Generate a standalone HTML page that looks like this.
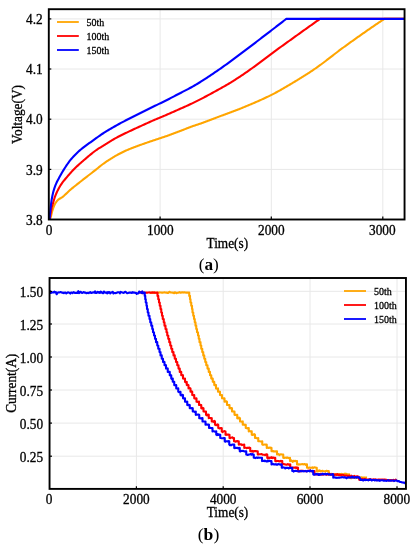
<!DOCTYPE html>
<html><head><meta charset="utf-8"><title>Charging curves</title>
<style>
html,body{margin:0;padding:0;background:#fff;}
body{width:416px;height:550px;overflow:hidden;}
svg{display:block;}
text{font-family:"Liberation Serif","Times New Roman",serif;fill:#000;}
.tk{font-size:13.3px;stroke:#000;stroke-width:0.3px;}
.lg{font-size:10px;stroke:#000;stroke-width:0.28px;}
.cap{font-size:16px;}
.grid line{stroke:#e8e8e8;stroke-width:1;}
.crv path{fill:none;stroke-width:2.1;stroke-linejoin:round;stroke-linecap:butt;}
</style></head><body>
<svg width="416" height="550" viewBox="0 0 416 550">
<rect width="416" height="550" fill="#fff"/>

<!-- chart a -->
<g class="grid">
<line x1="160.1" y1="10" x2="160.1" y2="219"/><line x1="271.3" y1="10" x2="271.3" y2="219"/><line x1="382.8" y1="10" x2="382.8" y2="219"/>
<line x1="49" y1="18.9" x2="404" y2="18.9"/><line x1="49" y1="69.0" x2="404" y2="69.0"/><line x1="49" y1="119.2" x2="404" y2="119.2"/><line x1="49" y1="169.4" x2="404" y2="169.4"/>
</g>
<clipPath id="ca"><rect x="48.8" y="9.5" width="355.75" height="210"/></clipPath>
<g class="crv" clip-path="url(#ca)">
<path d="M50.00 219.50 L51.00 216.29 L52.00 212.05 L53.00 208.75 L54.00 206.03 L55.00 203.90 L56.00 202.28 L57.00 200.94 L58.00 199.89 L59.00 199.11 L60.00 198.51 L61.00 197.96 L62.00 197.34 L63.00 196.58 L64.00 195.73 L65.00 194.82 L66.00 193.87 L67.00 192.89 L68.00 191.92 L69.00 190.98 L70.00 190.09 L71.00 189.24 L72.00 188.41 L73.00 187.60 L74.00 186.79 L75.00 186.00 L76.00 185.21 L77.00 184.42 L78.00 183.62 L79.00 182.82 L80.00 182.03 L81.00 181.24 L82.00 180.45 L83.00 179.67 L84.00 178.88 L85.00 178.10 L86.00 177.32 L87.00 176.55 L88.00 175.78 L89.00 175.02 L90.00 174.25 L91.00 173.49 L92.00 172.72 L93.00 171.95 L94.00 171.18 L95.00 170.40 L96.00 169.60 L97.00 168.80 L98.00 167.97 L99.00 167.12 L100.00 166.30 L101.00 165.52 L102.00 164.77 L103.00 164.03 L104.00 163.31 L105.00 162.60 L106.00 161.91 L107.00 161.24 L108.00 160.59 L109.00 159.94 L110.00 159.30 L111.00 158.66 L112.00 158.02 L113.00 157.40 L114.00 156.79 L115.00 156.20 L116.00 155.63 L117.00 155.08 L118.00 154.55 L119.00 154.02 L120.00 153.51 L121.00 153.00 L122.00 152.50 L123.00 152.00 L124.00 151.51 L125.00 151.03 L126.00 150.57 L127.00 150.12 L128.00 149.69 L129.00 149.27 L130.00 148.86 L131.00 148.46 L132.00 148.07 L133.00 147.68 L134.00 147.30 L135.00 146.93 L136.00 146.56 L137.00 146.19 L138.00 145.83 L139.00 145.46 L140.00 145.10 L141.00 144.74 L142.00 144.38 L143.00 144.02 L144.00 143.67 L145.00 143.32 L146.00 142.97 L147.00 142.63 L148.00 142.28 L149.00 141.94 L150.00 141.60 L151.00 141.26 L152.00 140.92 L153.00 140.58 L154.00 140.25 L155.00 139.91 L156.00 139.59 L157.00 139.26 L158.00 138.93 L159.00 138.61 L160.00 138.28 L161.00 137.95 L162.00 137.62 L163.00 137.29 L164.00 136.95 L165.00 136.60 L166.00 136.25 L167.00 135.89 L168.00 135.53 L169.00 135.17 L170.00 134.80 L171.00 134.43 L172.00 134.06 L173.00 133.68 L174.00 133.31 L175.00 132.94 L176.00 132.56 L177.00 132.19 L178.00 131.81 L179.00 131.44 L180.00 131.05 L181.00 130.67 L182.00 130.28 L183.00 129.90 L184.00 129.51 L185.00 129.12 L186.00 128.73 L187.00 128.35 L188.00 127.96 L189.00 127.58 L190.00 127.21 L191.00 126.83 L192.00 126.47 L193.00 126.10 L194.00 125.75 L195.00 125.41 L196.00 125.07 L197.00 124.75 L198.00 124.42 L199.00 124.09 L200.00 123.75 L201.00 123.40 L202.00 123.04 L203.00 122.68 L204.00 122.32 L205.00 121.95 L206.00 121.58 L207.00 121.20 L208.00 120.82 L209.00 120.45 L210.00 120.06 L211.00 119.68 L212.00 119.30 L213.00 118.92 L214.00 118.53 L215.00 118.15 L216.00 117.77 L217.00 117.38 L218.00 117.00 L219.00 116.63 L220.00 116.25 L221.00 115.88 L222.00 115.50 L223.00 115.14 L224.00 114.77 L225.00 114.40 L226.00 114.03 L227.00 113.67 L228.00 113.30 L229.00 112.94 L230.00 112.57 L231.00 112.20 L232.00 111.83 L233.00 111.46 L234.00 111.08 L235.00 110.70 L236.00 110.32 L237.00 109.93 L238.00 109.54 L239.00 109.15 L240.00 108.75 L241.00 108.35 L242.00 107.94 L243.00 107.54 L244.00 107.13 L245.00 106.72 L246.00 106.31 L247.00 105.90 L248.00 105.48 L249.00 105.07 L250.00 104.65 L251.00 104.23 L252.00 103.80 L253.00 103.38 L254.00 102.95 L255.00 102.52 L256.00 102.08 L257.00 101.65 L258.00 101.21 L259.00 100.76 L260.00 100.31 L261.00 99.86 L262.00 99.41 L263.00 98.95 L264.00 98.49 L265.00 98.02 L266.00 97.55 L267.00 97.07 L268.00 96.59 L269.00 96.11 L270.00 95.62 L271.00 95.12 L272.00 94.62 L273.00 94.11 L274.00 93.60 L275.00 93.07 L276.00 92.53 L277.00 91.99 L278.00 91.44 L279.00 90.88 L280.00 90.32 L281.00 89.76 L282.00 89.18 L283.00 88.61 L284.00 88.03 L285.00 87.44 L286.00 86.86 L287.00 86.27 L288.00 85.68 L289.00 85.09 L290.00 84.50 L291.00 83.91 L292.00 83.31 L293.00 82.72 L294.00 82.12 L295.00 81.52 L296.00 80.91 L297.00 80.31 L298.00 79.70 L299.00 79.08 L300.00 78.47 L301.00 77.85 L302.00 77.23 L303.00 76.60 L304.00 75.97 L305.00 75.33 L306.00 74.70 L307.00 74.05 L308.00 73.41 L309.00 72.76 L310.00 72.10 L311.00 71.44 L312.00 70.78 L313.00 70.11 L314.00 69.43 L315.00 68.75 L316.00 68.06 L317.00 67.36 L318.00 66.65 L319.00 65.94 L320.00 65.21 L321.00 64.48 L322.00 63.74 L323.00 62.99 L324.00 62.24 L325.00 61.48 L326.00 60.72 L327.00 59.95 L328.00 59.18 L329.00 58.41 L330.00 57.64 L331.00 56.86 L332.00 56.09 L333.00 55.31 L334.00 54.54 L335.00 53.77 L336.00 53.00 L337.00 52.23 L338.00 51.47 L339.00 50.71 L340.00 49.95 L341.00 49.21 L342.00 48.46 L343.00 47.73 L344.00 47.00 L345.00 46.28 L346.00 45.55 L347.00 44.83 L348.00 44.11 L349.00 43.39 L350.00 42.68 L351.00 41.96 L352.00 41.24 L353.00 40.53 L354.00 39.82 L355.00 39.11 L356.00 38.40 L357.00 37.69 L358.00 36.98 L359.00 36.27 L360.00 35.57 L361.00 34.87 L362.00 34.16 L363.00 33.46 L364.00 32.77 L365.00 32.07 L366.00 31.37 L367.00 30.68 L368.00 29.98 L369.00 29.29 L370.00 28.60 L371.00 27.91 L372.00 27.22 L373.00 26.54 L374.00 25.85 L375.00 25.17 L376.00 24.49 L377.00 23.81 L378.00 23.13 L379.00 22.46 L380.00 21.78 L381.00 21.11 L382.00 20.44 L383.00 19.77 L384.00 19.10 L384.30 18.90 L404.50 18.90" stroke="#ffa500"/>
<path d="M49.70 219.50 L50.70 213.01 L51.70 207.51 L52.70 204.25 L53.70 200.71 L54.70 197.48 L55.70 194.83 L56.70 192.50 L57.70 190.40 L58.70 188.48 L59.70 186.70 L60.70 185.06 L61.70 183.56 L62.70 182.18 L63.70 180.91 L64.70 179.71 L65.70 178.54 L66.70 177.36 L67.70 176.18 L68.70 175.01 L69.70 173.86 L70.70 172.73 L71.70 171.62 L72.70 170.54 L73.70 169.50 L74.70 168.50 L75.70 167.52 L76.70 166.56 L77.70 165.63 L78.70 164.71 L79.70 163.80 L80.70 162.92 L81.70 162.04 L82.70 161.17 L83.70 160.31 L84.70 159.46 L85.70 158.60 L86.70 157.75 L87.70 156.90 L88.70 156.06 L89.70 155.22 L90.70 154.40 L91.70 153.58 L92.70 152.79 L93.70 152.01 L94.70 151.25 L95.70 150.52 L96.70 149.81 L97.70 149.13 L98.70 148.49 L99.70 147.88 L100.70 147.28 L101.70 146.69 L102.70 146.08 L103.70 145.45 L104.70 144.82 L105.70 144.19 L106.70 143.55 L107.70 142.92 L108.70 142.28 L109.70 141.65 L110.70 141.03 L111.70 140.42 L112.70 139.82 L113.70 139.24 L114.70 138.67 L115.70 138.11 L116.70 137.58 L117.70 137.05 L118.70 136.53 L119.70 136.02 L120.70 135.51 L121.70 135.02 L122.70 134.52 L123.70 134.04 L124.70 133.55 L125.70 133.07 L126.70 132.59 L127.70 132.10 L128.70 131.62 L129.70 131.15 L130.70 130.68 L131.70 130.21 L132.70 129.75 L133.70 129.28 L134.70 128.82 L135.70 128.37 L136.70 127.91 L137.70 127.45 L138.70 126.99 L139.70 126.54 L140.70 126.08 L141.70 125.62 L142.70 125.16 L143.70 124.70 L144.70 124.25 L145.70 123.79 L146.70 123.34 L147.70 122.88 L148.70 122.43 L149.70 121.98 L150.70 121.54 L151.70 121.10 L152.70 120.66 L153.70 120.23 L154.70 119.81 L155.70 119.38 L156.70 118.97 L157.70 118.55 L158.70 118.14 L159.70 117.72 L160.70 117.31 L161.70 116.89 L162.70 116.48 L163.70 116.05 L164.70 115.63 L165.70 115.20 L166.70 114.77 L167.70 114.33 L168.70 113.90 L169.70 113.46 L170.70 113.02 L171.70 112.58 L172.70 112.14 L173.70 111.69 L174.70 111.25 L175.70 110.80 L176.70 110.36 L177.70 109.91 L178.70 109.47 L179.70 109.02 L180.70 108.58 L181.70 108.13 L182.70 107.69 L183.70 107.25 L184.70 106.80 L185.70 106.35 L186.70 105.90 L187.70 105.45 L188.70 105.00 L189.70 104.54 L190.70 104.07 L191.70 103.60 L192.70 103.13 L193.70 102.65 L194.70 102.16 L195.70 101.67 L196.70 101.17 L197.70 100.67 L198.70 100.16 L199.70 99.65 L200.70 99.14 L201.70 98.62 L202.70 98.10 L203.70 97.57 L204.70 97.04 L205.70 96.51 L206.70 95.98 L207.70 95.44 L208.70 94.91 L209.70 94.36 L210.70 93.82 L211.70 93.28 L212.70 92.73 L213.70 92.19 L214.70 91.64 L215.70 91.09 L216.70 90.54 L217.70 89.99 L218.70 89.44 L219.70 88.89 L220.70 88.33 L221.70 87.78 L222.70 87.21 L223.70 86.65 L224.70 86.08 L225.70 85.51 L226.70 84.92 L227.70 84.34 L228.70 83.74 L229.70 83.14 L230.70 82.53 L231.70 81.91 L232.70 81.29 L233.70 80.66 L234.70 80.03 L235.70 79.39 L236.70 78.74 L237.70 78.09 L238.70 77.44 L239.70 76.78 L240.70 76.12 L241.70 75.45 L242.70 74.78 L243.70 74.10 L244.70 73.42 L245.70 72.73 L246.70 72.03 L247.70 71.33 L248.70 70.63 L249.70 69.92 L250.70 69.20 L251.70 68.48 L252.70 67.75 L253.70 67.03 L254.70 66.30 L255.70 65.57 L256.70 64.83 L257.70 64.10 L258.70 63.36 L259.70 62.62 L260.70 61.88 L261.70 61.13 L262.70 60.38 L263.70 59.62 L264.70 58.86 L265.70 58.10 L266.70 57.33 L267.70 56.57 L268.70 55.81 L269.70 55.06 L270.70 54.31 L271.70 53.57 L272.70 52.83 L273.70 52.09 L274.70 51.36 L275.70 50.63 L276.70 49.90 L277.70 49.17 L278.70 48.44 L279.70 47.72 L280.70 47.00 L281.70 46.27 L282.70 45.55 L283.70 44.83 L284.70 44.11 L285.70 43.39 L286.70 42.67 L287.70 41.95 L288.70 41.24 L289.70 40.52 L290.70 39.80 L291.70 39.08 L292.70 38.36 L293.70 37.64 L294.70 36.92 L295.70 36.20 L296.70 35.49 L297.70 34.77 L298.70 34.05 L299.70 33.34 L300.70 32.62 L301.70 31.91 L302.70 31.19 L303.70 30.48 L304.70 29.76 L305.70 29.05 L306.70 28.34 L307.70 27.62 L308.70 26.91 L309.70 26.20 L310.70 25.49 L311.70 24.78 L312.70 24.07 L313.70 23.36 L314.70 22.65 L315.70 21.94 L316.70 21.23 L317.70 20.53 L318.70 19.82 L319.70 19.11 L320.00 18.90 L404.50 18.90" stroke="#ff0000"/>
<path d="M49.50 219.50 L50.50 208.42 L51.50 200.51 L52.50 195.25 L53.50 191.10 L54.50 187.86 L55.50 185.14 L56.50 182.80 L57.50 180.75 L58.50 178.89 L59.50 177.08 L60.50 175.26 L61.50 173.48 L62.50 171.75 L63.50 170.10 L64.50 168.52 L65.50 166.97 L66.50 165.45 L67.50 163.98 L68.50 162.56 L69.50 161.21 L70.50 159.93 L71.50 158.73 L72.50 157.59 L73.50 156.49 L74.50 155.43 L75.50 154.40 L76.50 153.42 L77.50 152.46 L78.50 151.54 L79.50 150.64 L80.50 149.77 L81.50 148.93 L82.50 148.11 L83.50 147.32 L84.50 146.56 L85.50 145.81 L86.50 145.09 L87.50 144.37 L88.50 143.66 L89.50 142.96 L90.50 142.27 L91.50 141.57 L92.50 140.86 L93.50 140.14 L94.50 139.42 L95.50 138.69 L96.50 137.96 L97.50 137.23 L98.50 136.51 L99.50 135.80 L100.50 135.10 L101.50 134.41 L102.50 133.75 L103.50 133.10 L104.50 132.47 L105.50 131.84 L106.50 131.22 L107.50 130.62 L108.50 130.02 L109.50 129.42 L110.50 128.84 L111.50 128.25 L112.50 127.68 L113.50 127.10 L114.50 126.53 L115.50 125.97 L116.50 125.40 L117.50 124.85 L118.50 124.29 L119.50 123.75 L120.50 123.20 L121.50 122.66 L122.50 122.13 L123.50 121.60 L124.50 121.07 L125.50 120.54 L126.50 120.02 L127.50 119.50 L128.50 118.98 L129.50 118.47 L130.50 117.97 L131.50 117.46 L132.50 116.97 L133.50 116.47 L134.50 115.97 L135.50 115.48 L136.50 114.99 L137.50 114.49 L138.50 114.00 L139.50 113.50 L140.50 113.00 L141.50 112.50 L142.50 112.00 L143.50 111.49 L144.50 110.99 L145.50 110.49 L146.50 109.98 L147.50 109.48 L148.50 108.98 L149.50 108.48 L150.50 107.99 L151.50 107.49 L152.50 107.00 L153.50 106.51 L154.50 106.03 L155.50 105.55 L156.50 105.08 L157.50 104.61 L158.50 104.13 L159.50 103.66 L160.50 103.19 L161.50 102.71 L162.50 102.23 L163.50 101.74 L164.50 101.25 L165.50 100.75 L166.50 100.24 L167.50 99.73 L168.50 99.22 L169.50 98.70 L170.50 98.18 L171.50 97.66 L172.50 97.13 L173.50 96.60 L174.50 96.08 L175.50 95.55 L176.50 95.02 L177.50 94.50 L178.50 93.98 L179.50 93.46 L180.50 92.95 L181.50 92.44 L182.50 91.92 L183.50 91.41 L184.50 90.90 L185.50 90.39 L186.50 89.87 L187.50 89.35 L188.50 88.82 L189.50 88.29 L190.50 87.75 L191.50 87.21 L192.50 86.65 L193.50 86.09 L194.50 85.51 L195.50 84.92 L196.50 84.33 L197.50 83.73 L198.50 83.12 L199.50 82.50 L200.50 81.88 L201.50 81.24 L202.50 80.61 L203.50 79.96 L204.50 79.32 L205.50 78.67 L206.50 78.01 L207.50 77.35 L208.50 76.69 L209.50 76.02 L210.50 75.35 L211.50 74.68 L212.50 74.01 L213.50 73.34 L214.50 72.67 L215.50 71.99 L216.50 71.31 L217.50 70.63 L218.50 69.94 L219.50 69.24 L220.50 68.54 L221.50 67.84 L222.50 67.13 L223.50 66.42 L224.50 65.71 L225.50 65.00 L226.50 64.28 L227.50 63.56 L228.50 62.83 L229.50 62.11 L230.50 61.38 L231.50 60.65 L232.50 59.91 L233.50 59.17 L234.50 58.42 L235.50 57.68 L236.50 56.93 L237.50 56.18 L238.50 55.42 L239.50 54.67 L240.50 53.91 L241.50 53.16 L242.50 52.40 L243.50 51.65 L244.50 50.90 L245.50 50.14 L246.50 49.39 L247.50 48.63 L248.50 47.87 L249.50 47.11 L250.50 46.35 L251.50 45.59 L252.50 44.83 L253.50 44.07 L254.50 43.30 L255.50 42.54 L256.50 41.78 L257.50 41.01 L258.50 40.25 L259.50 39.48 L260.50 38.72 L261.50 37.95 L262.50 37.19 L263.50 36.42 L264.50 35.66 L265.50 34.89 L266.50 34.12 L267.50 33.36 L268.50 32.59 L269.50 31.82 L270.50 31.05 L271.50 30.28 L272.50 29.51 L273.50 28.74 L274.50 27.98 L275.50 27.21 L276.50 26.43 L277.50 25.66 L278.50 24.89 L279.50 24.12 L280.50 23.35 L281.50 22.58 L282.50 21.80 L283.50 21.03 L284.50 20.26 L285.50 19.48 L286.25 18.90 L404.50 18.90" stroke="#0000ff"/>
</g>
<g stroke="#000" stroke-width="1.2">
<line x1="160.1" y1="216.5" x2="160.1" y2="219"/><line x1="271.3" y1="216.5" x2="271.3" y2="219"/><line x1="382.8" y1="216.5" x2="382.8" y2="219"/>
<line x1="49" y1="18.9" x2="51.3" y2="18.9"/><line x1="49" y1="69.0" x2="51.3" y2="69.0"/><line x1="49" y1="119.2" x2="51.3" y2="119.2"/><line x1="49" y1="169.4" x2="51.3" y2="169.4"/>
</g>
<rect x="48.8" y="9.2" width="355.75" height="210.3" fill="none" stroke="#000" stroke-width="1.9"/>
<g class="tk" text-anchor="end">
<text transform="translate(42.7,24) scale(1,1.055)">4.2</text><text transform="translate(42.7,74.1) scale(1,1.055)">4.1</text><text transform="translate(42.7,124.3) scale(1,1.055)">4.0</text><text transform="translate(42.7,174.5) scale(1,1.055)">3.9</text><text transform="translate(42.7,224.6) scale(1,1.055)">3.8</text>
</g>
<g class="tk" text-anchor="middle">
<text transform="translate(49,235) scale(1,1.055)">0</text><text transform="translate(160.3,235) scale(1,1.055)">1000</text><text transform="translate(271.3,235) scale(1,1.055)">2000</text><text transform="translate(382.3,235) scale(1,1.055)">3000</text>
<text transform="translate(227.3,247.8) scale(1,1.055)">Time(s)</text>
<text transform="translate(21.8,114.5) rotate(-90) scale(1,1.02)">Voltage(V)</text>
</g>
<g stroke-width="1.8">
<line x1="57" y1="22" x2="78.8" y2="22" stroke="#ffa500"/><line x1="57" y1="36" x2="78.8" y2="36" stroke="#ff0000"/><line x1="57" y1="50" x2="78.8" y2="50" stroke="#0000ff"/>
</g>
<g class="lg"><text transform="translate(86.4,25.6) scale(1,1.055)">50th</text><text transform="translate(86.4,39.6) scale(1,1.055)">100th</text><text transform="translate(86.4,53.6) scale(1,1.055)">150th</text></g>
<text class="cap" transform="translate(208.8,270.4) scale(1.08,1.05)" text-anchor="middle">(<tspan font-weight="bold">a</tspan>)</text>

<!-- chart b -->
<g class="grid">
<line x1="136.4" y1="278" x2="136.4" y2="489"/><line x1="223.2" y1="278" x2="223.2" y2="489"/><line x1="310.0" y1="278" x2="310.0" y2="489"/><line x1="397.0" y1="278" x2="397.0" y2="489"/>
<line x1="49" y1="291.3" x2="406" y2="291.3"/><line x1="49" y1="324.0" x2="406" y2="324.0"/><line x1="49" y1="357.0" x2="406" y2="357.0"/><line x1="49" y1="390.0" x2="406" y2="390.0"/><line x1="49" y1="423.1" x2="406" y2="423.1"/><line x1="49" y1="456.2" x2="406" y2="456.2"/>
</g>
<clipPath id="cb"><rect x="49.6" y="278" width="356.35" height="210.9"/></clipPath>
<g class="crv" clip-path="url(#cb)">
<path d="M150.00 292.70 L150.80 292.85 L151.60 292.70 L152.40 292.21 L153.20 292.87 L154.00 292.73 L154.80 292.44 L155.60 292.77 L156.40 292.71 L157.20 292.69 L158.00 292.61 L158.80 292.76 L159.60 292.38 L160.40 292.55 L161.20 292.46 L162.00 292.78 L162.80 292.61 L163.60 292.51 L164.40 292.37 L165.20 292.52 L166.00 292.60 L166.80 292.52 L167.60 292.99 L168.40 292.90 L169.20 291.79 L170.00 292.03 L170.80 292.55 L171.60 292.47 L172.40 292.66 L173.20 292.67 L174.00 293.24 L174.80 292.27 L175.60 292.49 L176.40 293.21 L177.20 292.79 L178.00 292.80 L178.80 292.45 L179.60 292.11 L180.40 292.65 L181.20 292.63 L182.00 292.23 L182.80 292.40 L183.60 292.58 L184.40 292.32 L185.20 292.57 L186.00 292.63 L186.80 292.61 L187.60 292.45 L188.40 292.78 L188.75 292.60 L189.25 292.60 L189.25 295.90 L190.00 295.90 L190.00 299.21 L190.50 299.21 L190.50 302.51 L191.25 302.51 L191.25 305.82 L192.00 305.82 L192.00 309.12 L192.50 309.12 L192.50 312.43 L193.25 312.43 L193.25 315.73 L194.00 315.73 L194.00 319.03 L194.75 319.03 L194.75 322.34 L195.50 322.34 L195.50 325.64 L196.25 325.64 L196.25 328.95 L197.00 328.95 L197.00 332.25 L198.00 332.25 L198.00 335.55 L198.75 335.55 L198.75 338.86 L199.50 338.86 L199.50 342.16 L200.50 342.16 L200.50 345.47 L201.25 345.47 L201.25 348.77 L202.25 348.77 L202.25 352.08 L203.25 352.08 L203.25 355.38 L204.25 355.38 L204.25 358.68 L205.25 358.68 L205.25 361.99 L206.25 361.99 L206.25 365.29 L207.50 365.29 L207.50 368.60 L208.75 368.60 L208.75 371.90 L210.00 371.90 L210.00 375.20 L211.25 375.20 L211.25 378.51 L212.00 378.78 L212.75 378.51 L212.75 381.81 L213.50 381.91 L214.25 381.81 L214.25 385.12 L215.12 384.87 L216.00 385.12 L216.00 388.42 L217.00 388.64 L218.00 388.42 L218.00 391.73 L219.00 391.57 L220.00 391.73 L220.00 395.03 L221.00 395.29 L222.00 395.03 L222.00 398.33 L222.83 398.01 L223.67 398.61 L224.50 398.33 L224.50 401.64 L225.33 401.63 L226.17 401.26 L227.00 401.64 L227.00 404.94 L227.83 404.85 L228.67 404.96 L229.50 404.94 L229.50 408.25 L230.33 408.33 L231.17 407.95 L232.00 408.25 L232.00 411.55 L232.83 411.22 L233.67 411.61 L234.50 411.55 L234.50 414.85 L235.42 414.71 L236.33 414.92 L237.25 414.85 L237.25 418.16 L238.17 418.39 L239.08 417.66 L240.00 418.16 L240.00 421.46 L240.92 421.54 L241.83 421.83 L242.75 421.46 L242.75 424.77 L243.50 424.68 L244.25 424.52 L245.00 424.99 L245.75 424.77 L245.75 428.07 L246.50 428.15 L247.25 428.34 L248.00 427.97 L248.75 428.07 L248.75 431.38 L249.50 430.93 L250.25 431.34 L251.00 431.24 L251.75 431.38 L251.75 434.68 L252.56 434.91 L253.38 434.74 L254.19 434.19 L255.00 434.68 L255.00 437.98 L255.81 437.62 L256.62 438.25 L257.44 438.19 L258.25 437.98 L258.25 441.29 L259.05 441.10 L259.85 441.29 L260.65 441.42 L261.45 441.43 L262.25 441.29 L262.25 444.59 L263.00 444.85 L263.75 444.67 L264.50 444.56 L265.25 444.51 L266.00 444.91 L266.75 444.59 L266.75 447.90 L267.54 447.22 L268.33 447.85 L269.12 447.91 L269.92 447.47 L270.71 448.00 L271.50 447.90 L271.50 451.20 L272.29 451.00 L273.07 451.46 L273.86 451.16 L274.64 451.40 L275.43 451.57 L276.21 451.31 L277.00 451.20 L277.00 454.50 L277.78 454.24 L278.56 454.05 L279.34 455.03 L280.12 454.47 L280.91 454.30 L281.69 454.55 L282.47 454.45 L283.25 454.50 L283.25 457.81 L284.00 458.06 L284.75 457.82 L285.50 457.81 L286.25 457.59 L287.00 457.95 L287.75 457.50 L288.50 458.01 L289.25 458.27 L290.00 457.81 L290.00 461.11 L290.70 460.66 L291.40 460.37 L292.10 461.30 L292.80 461.88 L293.50 460.81 L294.20 460.74 L294.90 461.29 L295.60 460.86 L296.30 460.96 L297.00 461.11 L297.00 464.42 L297.71 464.31 L298.43 464.58 L299.14 464.30 L299.86 464.50 L300.57 464.36 L301.29 464.16 L302.00 464.32 L302.71 464.13 L303.43 464.42 L304.14 464.08 L304.86 464.09 L305.57 464.85 L306.29 464.40 L307.00 464.42 L307.00 467.72 L307.75 467.70 L308.50 467.87 L309.25 467.59 L310.00 467.65 L310.75 467.85 L311.50 467.81 L312.25 467.37 L313.00 467.97 L313.75 467.54 L314.50 467.40 L315.25 467.45 L316.00 467.60 L316.75 467.72 L316.75 471.03 L317.46 471.51 L318.16 470.67 L318.87 471.07 L319.57 470.38 L320.28 471.02 L320.99 471.29 L321.69 470.95 L322.40 470.84 L323.10 471.09 L323.81 471.24 L324.51 471.22 L325.22 471.62 L325.93 471.09 L326.63 470.85 L327.34 470.99 L328.04 471.00 L328.75 471.03 L328.75 474.33 L329.46 474.36 L330.16 474.32 L330.87 474.38 L331.58 473.83 L332.28 474.58 L332.99 474.16 L333.70 473.98 L334.41 474.52 L335.11 474.72 L335.82 474.48 L336.53 474.38 L337.23 474.05 L337.94 475.19 L338.65 474.59 L339.35 473.99 L340.06 474.10 L340.77 474.36 L341.47 473.86 L342.18 474.38 L342.89 474.19 L343.59 474.70 L344.30 474.62 L345.01 473.52 L345.72 474.34 L346.42 473.84 L347.13 474.66 L347.84 474.38 L348.54 474.49 L349.25 474.33 L349.25 477.63 L349.96 477.31 L350.67 478.18 L351.38 478.24 L352.09 477.31 L352.80 477.75 L353.51 477.43 L354.22 477.63 L354.93 477.25 L355.64 478.19 L356.35 477.34 L357.06 477.54 L357.77 477.78 L358.48 477.44 L359.19 477.56 L359.90 477.46 L360.61 477.59 L361.32 477.28 L362.03 477.50 L362.74 477.57 L363.45 477.53 L364.16 477.65 L364.87 477.55 L365.58 477.86 L366.29 477.54 L367.00 477.63" stroke="#ffa500"/>
<path d="M139.00 292.66 L139.80 292.44 L140.60 292.48 L141.40 291.87 L142.20 293.14 L143.00 292.94 L143.80 292.50 L144.60 292.83 L145.40 292.68 L146.20 292.43 L147.00 292.89 L147.80 292.51 L148.60 292.50 L149.40 292.36 L150.20 292.74 L151.00 292.57 L151.80 292.76 L152.60 292.42 L153.40 292.64 L154.20 292.33 L155.00 292.85 L155.80 292.66 L156.60 292.70 L157.00 292.60 L157.50 292.60 L157.50 295.90 L158.25 295.90 L158.25 299.21 L159.00 299.21 L159.00 302.51 L159.75 302.51 L159.75 305.82 L160.50 305.82 L160.50 309.12 L161.25 309.12 L161.25 312.43 L162.00 312.43 L162.00 315.73 L162.75 315.73 L162.75 319.03 L163.75 319.03 L163.75 322.34 L164.50 322.34 L164.50 325.64 L165.50 325.64 L165.50 328.95 L166.50 328.95 L166.50 332.25 L167.25 332.25 L167.25 335.55 L168.25 335.55 L168.25 338.86 L169.25 338.86 L169.25 342.16 L170.25 342.16 L170.25 345.47 L171.25 345.47 L171.25 348.77 L172.25 348.77 L172.25 352.08 L173.50 352.08 L173.50 355.38 L174.75 355.38 L174.75 358.68 L176.00 358.68 L176.00 361.99 L177.25 361.99 L177.25 365.29 L178.50 365.29 L178.50 368.60 L179.75 368.60 L179.75 371.90 L180.50 372.02 L181.25 371.90 L181.25 375.20 L182.12 374.90 L183.00 375.20 L183.00 378.51 L184.00 378.74 L185.00 378.51 L185.00 381.81 L185.88 382.43 L186.75 381.81 L186.75 385.12 L187.62 384.63 L188.50 385.12 L188.50 388.42 L189.50 387.90 L190.50 388.42 L190.50 391.73 L191.38 391.27 L192.25 391.73 L192.25 395.03 L193.25 395.28 L194.25 395.03 L194.25 398.33 L195.00 398.37 L195.75 398.66 L196.50 398.33 L196.50 401.64 L197.33 401.85 L198.17 401.70 L199.00 401.64 L199.00 404.94 L199.75 405.03 L200.50 404.89 L201.25 404.94 L201.25 408.25 L202.00 408.51 L202.75 407.91 L203.50 408.25 L203.50 411.55 L204.33 411.42 L205.17 411.62 L206.00 411.55 L206.00 414.85 L206.92 415.39 L207.83 414.62 L208.75 414.85 L208.75 418.16 L209.50 417.83 L210.25 417.99 L211.00 418.45 L211.75 418.16 L211.75 421.46 L212.56 421.39 L213.38 421.86 L214.19 420.90 L215.00 421.46 L215.00 424.77 L215.81 425.11 L216.62 425.08 L217.44 424.34 L218.25 424.77 L218.25 428.07 L218.95 428.12 L219.65 428.44 L220.35 428.10 L221.05 428.37 L221.75 428.07 L221.75 431.38 L222.50 432.09 L223.25 431.46 L224.00 431.29 L224.75 431.14 L225.50 431.38 L225.50 434.68 L226.30 434.87 L227.10 434.62 L227.90 434.63 L228.70 434.65 L229.50 434.68 L229.50 437.98 L230.25 438.18 L231.00 437.66 L231.75 437.52 L232.50 437.25 L233.25 438.34 L234.00 437.98 L234.00 441.29 L234.79 441.31 L235.58 441.74 L236.38 441.28 L237.17 441.06 L237.96 441.43 L238.75 441.29 L238.75 444.59 L239.54 444.57 L240.32 444.22 L241.11 444.33 L241.89 445.12 L242.68 444.70 L243.46 444.72 L244.25 444.59 L244.25 447.90 L245.00 447.81 L245.75 447.69 L246.50 448.16 L247.25 447.86 L248.00 447.67 L248.75 447.86 L249.50 447.62 L250.25 447.90 L250.25 451.20 L251.00 451.26 L251.75 451.54 L252.50 450.95 L253.25 451.63 L254.00 451.00 L254.75 451.25 L255.50 450.95 L256.25 451.13 L257.00 451.21 L257.75 451.20 L257.75 454.50 L258.48 454.37 L259.21 454.29 L259.94 454.30 L260.67 454.26 L261.40 454.03 L262.13 454.43 L262.87 454.62 L263.60 454.78 L264.33 454.70 L265.06 455.24 L265.79 454.60 L266.52 454.37 L267.25 454.50 L267.25 457.81 L267.98 458.37 L268.70 457.49 L269.43 458.10 L270.16 457.52 L270.89 457.91 L271.61 457.22 L272.34 458.08 L273.07 457.76 L273.80 457.52 L274.52 458.31 L275.25 457.81 L275.25 461.11 L275.95 461.34 L276.65 461.13 L277.35 460.89 L278.05 461.10 L278.75 461.06 L279.45 461.33 L280.15 461.35 L280.85 460.91 L281.55 460.95 L282.25 461.11 L282.25 464.42 L282.98 464.26 L283.70 464.01 L284.43 464.24 L285.16 464.39 L285.89 464.62 L286.61 464.81 L287.34 464.17 L288.07 464.58 L288.80 464.28 L289.52 465.04 L290.25 464.42 L290.25 467.72 L290.95 467.71 L291.66 467.87 L292.36 467.44 L293.07 467.48 L293.77 467.78 L294.48 467.61 L295.18 467.83 L295.89 467.25 L296.59 467.92 L297.30 467.45 L298.00 467.72 L298.00 471.03 L298.72 471.54 L299.43 470.94 L300.15 471.35 L300.87 470.61 L301.59 471.15 L302.30 470.76 L303.02 470.88 L303.74 471.03 L304.46 470.93 L305.17 471.10 L305.89 471.25 L306.61 471.22 L307.33 471.00 L308.04 470.62 L308.76 470.78 L309.48 470.97 L310.20 470.39 L310.91 471.25 L311.63 470.95 L312.35 470.95 L313.07 471.31 L313.78 471.23 L314.50 471.03 L314.50 474.33 L315.22 474.40 L315.94 474.03 L316.67 474.42 L317.39 474.43 L318.11 474.06 L318.83 474.64 L319.56 474.48 L320.28 473.74 L321.00 474.37 L321.72 473.95 L322.44 474.67 L323.17 474.57 L323.89 474.00 L324.61 474.06 L325.33 474.36 L326.06 474.26 L326.78 474.79 L327.50 474.55 L328.22 474.24 L328.94 474.50 L329.67 473.72 L330.39 474.42 L331.11 474.59 L331.83 474.28 L332.56 474.12 L333.28 474.50 L334.00 474.33 L334.70 474.95 L335.40 474.53 L336.10 474.23 L336.80 475.02 L337.50 474.16 L338.20 474.89 L338.90 474.66 L339.60 475.15 L340.30 474.73 L341.00 475.41 L341.70 475.19 L342.40 474.69 L343.10 474.69 L343.80 475.23 L344.50 475.75 L345.20 475.49 L345.90 475.55 L346.60 475.53 L347.30 475.88 L348.00 475.85 L348.70 475.89 L349.40 475.61 L350.10 476.29 L350.80 476.41 L351.50 475.73 L352.20 476.81 L352.90 476.44 L353.60 476.17 L354.30 475.84 L355.00 476.63 L355.70 476.67 L356.40 476.42 L357.10 476.16 L357.80 477.04 L358.50 476.64 L358.83 477.50 L359.17 479.26 L359.50 479.90 L360.21 479.59 L360.92 479.21 L361.62 479.54 L362.33 478.74 L363.04 479.42 L363.75 479.20 L364.45 479.07 L365.16 479.01 L365.87 479.62 L366.58 479.51 L367.28 479.55 L367.99 479.76 L368.70 479.31 L369.41 479.22 L370.11 479.09 L370.82 479.51 L371.53 479.83 L372.24 479.60 L372.94 479.84 L373.65 479.35 L374.36 479.56 L375.07 479.50 L375.77 479.38 L376.48 480.27 L377.19 480.01 L377.90 479.58 L378.60 479.59 L379.31 479.81 L380.02 479.44 L380.73 479.99 L381.43 479.52 L382.14 479.80 L382.85 479.64 L383.56 479.81 L384.26 479.59 L384.97 479.54 L385.68 479.73 L386.39 479.83 L387.09 479.95 L387.80 480.07 L388.51 480.50 L389.22 480.32 L389.92 480.04 L390.63 480.33 L391.34 479.96 L392.05 480.57 L392.75 480.34 L393.46 479.83 L394.17 480.44 L394.88 480.47 L395.58 479.51 L396.29 480.07 L397.00 480.17" stroke="#ff0000"/>
<path d="M49.50 293.62 L50.30 291.32 L51.10 292.81 L51.90 292.32 L52.70 292.37 L53.50 292.49 L54.30 291.59 L55.10 292.48 L55.90 292.17 L56.70 294.26 L57.50 292.71 L58.30 292.42 L59.10 292.46 L59.90 292.27 L60.70 292.07 L61.50 292.40 L62.30 292.84 L63.10 292.48 L63.90 293.08 L64.70 292.50 L65.50 292.61 L66.30 293.37 L67.10 292.87 L67.90 292.35 L68.70 292.51 L69.50 292.87 L70.30 293.57 L71.10 292.47 L71.90 292.48 L72.70 293.10 L73.50 292.16 L74.30 292.45 L75.10 293.04 L75.90 292.89 L76.70 292.65 L77.50 292.94 L78.30 291.19 L79.10 293.11 L79.90 292.12 L80.70 291.77 L81.50 292.74 L82.30 292.95 L83.10 292.38 L83.90 292.06 L84.70 292.61 L85.50 292.57 L86.30 293.30 L87.10 292.97 L87.90 292.70 L88.70 293.16 L89.50 292.50 L90.30 292.14 L91.10 292.89 L91.90 292.89 L92.70 292.49 L93.50 292.21 L94.30 292.71 L95.10 291.35 L95.90 292.95 L96.70 292.85 L97.50 291.78 L98.30 292.63 L99.10 292.12 L99.90 292.98 L100.70 291.58 L101.50 292.14 L102.30 292.95 L103.10 293.18 L103.90 291.52 L104.70 292.35 L105.50 292.76 L106.30 292.30 L107.10 293.40 L107.90 292.00 L108.70 292.78 L109.50 292.08 L110.30 293.30 L111.10 292.59 L111.90 292.41 L112.70 291.74 L113.50 293.44 L114.30 292.98 L115.10 292.98 L115.90 293.17 L116.70 292.77 L117.50 292.28 L118.30 292.20 L119.10 292.20 L119.90 293.29 L120.70 291.87 L121.50 292.30 L122.30 292.44 L123.10 292.71 L123.90 292.89 L124.70 291.98 L125.50 291.73 L126.30 292.60 L127.10 293.21 L127.90 292.98 L128.70 292.71 L129.50 292.44 L130.30 292.75 L131.10 292.48 L131.90 293.01 L132.70 292.20 L133.50 292.67 L134.30 292.54 L135.10 292.87 L135.90 292.71 L136.70 293.88 L137.50 293.35 L138.30 293.35 L139.10 291.58 L139.90 292.43 L140.70 292.30 L141.50 292.87 L142.30 291.46 L143.10 293.19 L143.90 293.13 L144.25 292.60 L144.75 292.60 L144.75 295.90 L145.25 295.90 L145.25 299.21 L145.75 299.21 L145.75 302.51 L146.50 302.51 L146.50 305.82 L147.00 305.82 L147.00 309.12 L147.75 309.12 L147.75 312.43 L148.50 312.43 L148.50 315.73 L149.50 315.73 L149.50 319.03 L150.25 319.03 L150.25 322.34 L151.25 322.34 L151.25 325.64 L152.25 325.64 L152.25 328.95 L153.00 328.95 L153.00 332.25 L154.00 332.25 L154.00 335.55 L155.00 335.55 L155.00 338.86 L156.00 338.86 L156.00 342.16 L157.25 342.16 L157.25 345.47 L158.25 345.47 L158.25 348.77 L159.50 348.77 L159.50 352.08 L160.50 352.08 L160.50 355.38 L161.75 355.38 L161.75 358.68 L163.00 358.68 L163.00 361.99 L163.75 361.60 L164.50 361.99 L164.50 365.29 L165.25 365.00 L166.00 365.29 L166.00 368.60 L166.88 368.36 L167.75 368.60 L167.75 371.90 L168.75 371.91 L169.75 371.90 L169.75 375.20 L170.50 375.40 L171.25 375.20 L171.25 378.51 L172.00 379.12 L172.75 378.51 L172.75 381.81 L173.50 381.75 L174.25 381.81 L174.25 385.12 L175.25 385.35 L176.25 385.12 L176.25 388.42 L177.25 388.47 L178.25 388.42 L178.25 391.73 L179.00 392.25 L179.75 391.95 L180.50 391.73 L180.50 395.03 L181.33 395.44 L182.17 394.71 L183.00 395.03 L183.00 398.33 L184.00 398.28 L185.00 398.33 L185.00 401.64 L185.75 401.39 L186.50 402.09 L187.25 401.64 L187.25 404.94 L188.08 405.14 L188.92 404.85 L189.75 404.94 L189.75 408.25 L190.50 408.11 L191.25 408.39 L192.00 408.04 L192.75 408.25 L192.75 411.55 L193.50 411.27 L194.25 411.69 L195.00 412.29 L195.75 411.55 L195.75 414.85 L196.45 414.78 L197.15 414.69 L197.85 414.50 L198.55 414.45 L199.25 414.85 L199.25 418.16 L200.06 418.32 L200.88 418.41 L201.69 418.16 L202.50 418.16 L202.50 421.46 L203.25 421.56 L204.00 421.50 L204.75 421.50 L205.50 421.46 L205.50 424.77 L206.20 424.31 L206.90 424.63 L207.60 424.80 L208.30 424.53 L209.00 424.77 L209.00 428.07 L209.70 427.93 L210.40 427.83 L211.10 427.97 L211.80 428.33 L212.50 428.07 L212.50 431.38 L213.25 431.25 L214.00 431.33 L214.75 431.62 L215.50 431.57 L216.25 431.38 L216.25 434.68 L217.05 435.19 L217.85 434.05 L218.65 434.94 L219.45 434.53 L220.25 434.68 L220.25 437.98 L221.00 438.02 L221.75 438.23 L222.50 438.31 L223.25 438.30 L224.00 438.03 L224.75 437.98 L224.75 441.29 L225.50 441.77 L226.25 441.20 L227.00 441.25 L227.75 441.53 L228.50 441.12 L229.25 441.29 L229.25 444.59 L229.96 445.24 L230.68 444.90 L231.39 445.24 L232.11 444.58 L232.82 444.48 L233.54 444.64 L234.25 444.59 L234.25 447.90 L235.04 448.12 L235.82 447.72 L236.61 448.01 L237.39 447.89 L238.18 448.38 L238.96 447.70 L239.75 447.90 L239.75 451.20 L240.47 451.51 L241.19 451.01 L241.92 450.91 L242.64 450.99 L243.36 450.84 L244.08 451.24 L244.81 451.51 L245.53 451.25 L246.25 451.20 L246.25 454.50 L247.00 454.69 L247.75 454.99 L248.50 454.59 L249.25 454.56 L250.00 454.42 L250.75 454.02 L251.50 454.73 L252.25 453.98 L253.00 454.70 L253.75 454.50 L253.75 457.81 L254.50 457.80 L255.25 458.15 L256.00 457.79 L256.75 457.56 L257.50 457.92 L258.25 457.64 L259.00 457.75 L259.75 457.82 L260.50 457.77 L261.25 457.75 L262.00 457.81 L262.00 461.11 L262.73 460.86 L263.46 461.06 L264.19 460.47 L264.92 461.07 L265.65 460.75 L266.38 461.45 L267.12 461.49 L267.85 460.53 L268.58 461.16 L269.31 461.07 L270.04 460.80 L270.77 461.27 L271.50 461.11 L271.50 464.42 L272.23 464.28 L272.96 463.89 L273.70 464.34 L274.43 464.37 L275.16 464.45 L275.89 464.05 L276.62 464.60 L277.36 464.64 L278.09 464.07 L278.82 464.22 L279.55 464.39 L280.29 464.25 L281.02 464.94 L281.75 464.42 L281.75 467.72 L282.45 467.78 L283.15 467.42 L283.85 467.48 L284.55 467.70 L285.25 468.41 L285.95 467.67 L286.65 467.76 L287.35 467.88 L288.05 467.71 L288.75 468.41 L289.45 467.56 L290.15 467.94 L290.85 467.77 L291.55 467.91 L292.25 467.72 L292.25 471.03 L292.95 470.67 L293.65 471.56 L294.35 470.99 L295.05 471.04 L295.75 470.74 L296.45 470.81 L297.15 471.19 L297.85 471.32 L298.55 471.25 L299.25 471.39 L299.95 471.24 L300.65 471.03 L301.35 471.28 L302.05 471.20 L302.75 470.99 L303.45 471.24 L304.15 471.41 L304.85 471.10 L305.55 470.92 L306.25 471.24 L306.95 471.60 L307.65 470.96 L308.35 471.00 L309.05 470.98 L309.75 471.39 L310.45 470.47 L311.15 471.13 L311.85 471.38 L312.55 470.78 L313.25 471.03 L313.25 474.33 L313.96 474.78 L314.68 474.49 L315.39 474.16 L316.11 474.39 L316.82 473.87 L317.54 474.16 L318.25 474.88 L318.96 474.06 L319.68 474.88 L320.39 474.30 L321.11 474.63 L321.82 474.34 L322.54 473.66 L323.25 474.16 L323.96 474.39 L324.68 473.98 L325.39 473.92 L326.11 474.44 L326.82 474.13 L327.54 473.82 L328.25 474.12 L328.96 474.59 L329.68 474.19 L330.39 474.61 L331.11 474.79 L331.82 474.34 L332.54 473.99 L333.25 474.33 L333.25 477.63 L334.17 477.24 L335.08 477.63 L336.00 477.63 L336.71 477.87 L337.42 477.69 L338.14 477.76 L338.85 477.47 L339.56 477.67 L340.27 477.44 L340.98 477.47 L341.70 477.19 L342.41 477.10 L343.12 477.40 L343.83 477.21 L344.55 477.24 L345.26 477.69 L345.97 477.46 L346.68 478.30 L347.39 477.73 L348.11 477.28 L348.82 477.67 L349.53 477.54 L350.24 477.24 L350.95 477.73 L351.67 477.19 L352.38 476.54 L353.09 477.61 L353.80 477.21 L354.52 477.79 L355.23 477.18 L355.94 477.02 L356.65 477.77 L357.36 477.03 L358.08 477.38 L358.79 477.72 L359.50 477.33 L359.83 478.11 L360.17 479.00 L360.50 480.03 L361.21 479.59 L361.92 480.01 L362.63 480.02 L363.35 480.53 L364.06 479.80 L364.77 479.66 L365.48 480.14 L366.19 479.84 L366.90 480.05 L367.62 480.03 L368.33 480.34 L369.04 479.85 L369.75 480.02 L370.46 479.35 L371.17 479.84 L371.88 480.54 L372.60 479.94 L373.31 479.95 L374.02 479.82 L374.73 480.35 L375.44 480.25 L376.15 479.89 L376.87 480.43 L377.58 480.33 L378.29 480.49 L379.00 480.12 L379.71 480.81 L380.42 480.45 L381.13 480.32 L381.85 480.23 L382.56 480.33 L383.27 480.66 L383.98 480.36 L384.69 480.76 L385.40 480.64 L386.12 480.87 L386.83 480.74 L387.54 480.51 L388.25 480.02 L388.96 480.65 L389.67 480.81 L390.38 480.65 L391.10 480.78 L391.81 480.51 L392.52 480.56 L393.23 480.42 L393.94 481.09 L394.65 480.77 L395.37 480.60 L396.08 480.39 L396.79 480.74 L397.50 481.20 L398.19 481.13 L398.88 481.00 L399.57 481.80 L400.27 482.00 L400.96 482.07 L401.65 482.22 L402.34 482.52 L403.03 482.55 L403.73 482.82 L404.42 482.58 L405.11 483.42 L405.80 483.26" stroke="#0000ff"/>
</g>
<g stroke="#000" stroke-width="1.2">
<line x1="136.4" y1="486.3" x2="136.4" y2="489"/><line x1="223.2" y1="486.3" x2="223.2" y2="489"/><line x1="310.0" y1="486.3" x2="310.0" y2="489"/><line x1="397.0" y1="486.3" x2="397.0" y2="489"/>
<line x1="49" y1="291.5" x2="52" y2="291.5"/><line x1="49" y1="324.0" x2="52" y2="324.0"/><line x1="49" y1="357.0" x2="52" y2="357.0"/><line x1="49" y1="390.0" x2="52" y2="390.0"/><line x1="49" y1="423.1" x2="52" y2="423.1"/><line x1="49" y1="456.2" x2="52" y2="456.2"/>
</g>
<rect x="49.55" y="278" width="356.4" height="210.9" fill="none" stroke="#000" stroke-width="1.9"/>
<g class="tk" text-anchor="end">
<text transform="translate(43.1,296.55) scale(1,1.055)">1.50</text><text transform="translate(43.1,329.55) scale(1,1.055)">1.25</text><text transform="translate(43.1,362.55) scale(1,1.055)">1.00</text><text transform="translate(43.1,395.55) scale(1,1.055)">0.75</text><text transform="translate(43.1,428.65) scale(1,1.055)">0.50</text><text transform="translate(43.1,461.75) scale(1,1.055)">0.25</text>
</g>
<g class="tk" text-anchor="middle">
<text transform="translate(49,504.4) scale(1,1.055)">0</text><text transform="translate(136.4,504.4) scale(1,1.055)">2000</text><text transform="translate(223.2,504.4) scale(1,1.055)">4000</text><text transform="translate(310.0,504.4) scale(1,1.055)">6000</text><text transform="translate(396.8,504.4) scale(1,1.055)">8000</text>
<text transform="translate(227.5,517.4) scale(1,1.055)">Time(s)</text>
<text transform="translate(15.7,383.3) rotate(-90) scale(1,1.02)">Current(A)</text>
</g>
<g stroke-width="1.8">
<line x1="344" y1="291" x2="366" y2="291" stroke="#ffa500"/><line x1="344" y1="305" x2="366" y2="305" stroke="#ff0000"/><line x1="344" y1="319" x2="366" y2="319" stroke="#0000ff"/>
</g>
<g class="lg"><text transform="translate(373.9,295.0) scale(1,1.055)">50th</text><text transform="translate(373.9,309.0) scale(1,1.055)">100th</text><text transform="translate(373.9,323.0) scale(1,1.055)">150th</text></g>
<text class="cap" transform="translate(208.5,540.4) scale(1.1,1.05)" text-anchor="middle">(<tspan font-weight="bold">b</tspan>)</text>
</svg>
</body></html>
